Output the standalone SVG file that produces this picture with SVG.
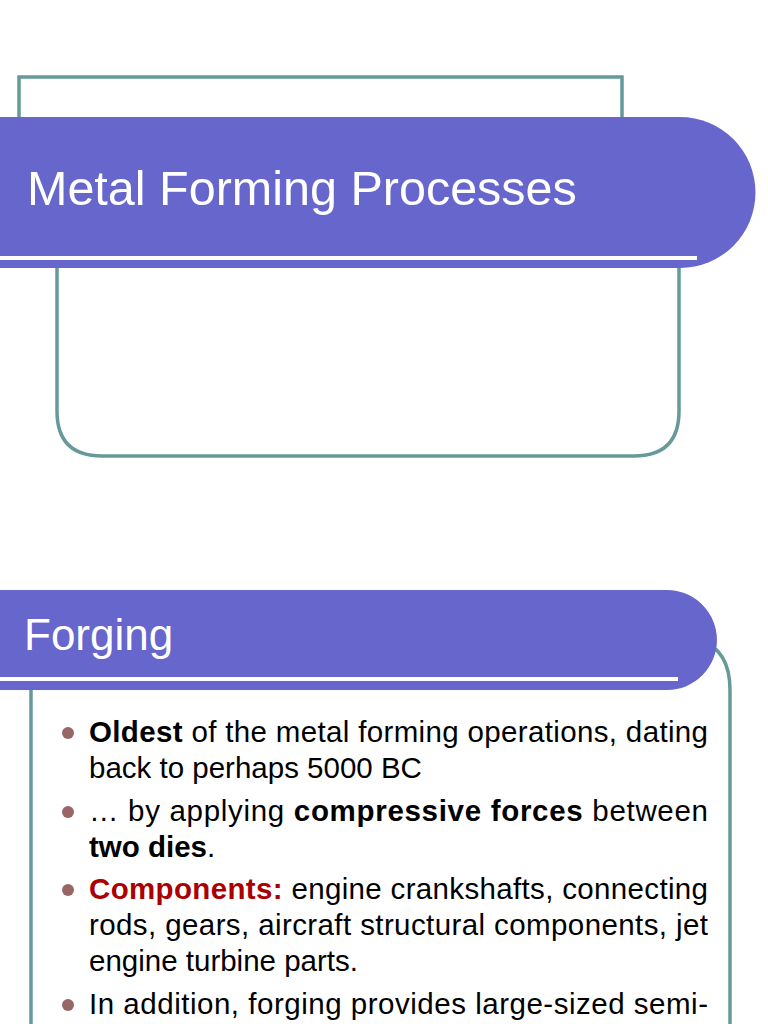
<svg xmlns="http://www.w3.org/2000/svg" width="768" height="1024" viewBox="0 0 768 1024">
<style>
.fr{fill:none;stroke:#669999;stroke-width:3.5}
.bn{fill:#6666CC}
.wl{stroke:#fff;stroke-width:4}
.t{font-family:"Liberation Sans",Arial,sans-serif;fill:#000;font-size:29.5px}
.h{font-family:"Liberation Sans",Arial,sans-serif;fill:#fff}
.dot{fill:#996666}
</style>
<rect width="768" height="1024" fill="#fff"/>
<g id="slide1">
<path class="fr" d="M19,117 V77 H622 V117"/>
<path class="fr" d="M57,268 V411 Q57,456 102,456 H634 Q679,456 679,411 V268"/>
<path class="bn" d="M0,117 H680 A75,75 0 0 1 680,268 H0 Z"/>
<line class="wl" x1="0" y1="258" x2="697" y2="258"/>
<text class="h" x="27" y="205" font-size="48.5">Metal Forming Processes</text>
</g>
<g id="slide2">
<path class="fr" d="M31,690 V1024 M700,640 Q730,650 730,690 V1024"/>
<path class="bn" d="M0,590 H667 A50,50 0 0 1 667,690 H0 Z"/>
<line class="wl" x1="0" y1="679" x2="678" y2="679"/>
<text class="h" x="24" y="650" font-size="44">Forging</text>
<circle class="dot" cx="68" cy="733" r="6"/>
<circle class="dot" cx="68" cy="812" r="6"/>
<circle class="dot" cx="68" cy="890" r="6"/>
<circle class="dot" cx="68" cy="1005" r="6"/>
<text class="t" x="89" y="742" textLength="619" lengthAdjust="spacing"><tspan font-weight="bold">Oldest</tspan> of the metal forming operations, dating</text>
<text class="t" x="89" y="778">back to perhaps 5000 BC</text>
<text class="t" x="89" y="821" textLength="619" lengthAdjust="spacing">… by applying <tspan font-weight="bold">compressive forces</tspan> between</text>
<text class="t" x="89" y="857"><tspan font-weight="bold">two dies</tspan>.</text>
<text class="t" x="89" y="899" textLength="619" lengthAdjust="spacing"><tspan font-weight="bold" fill="#AA0000">Components:</tspan> engine crankshafts, connecting</text>
<text class="t" x="89" y="935" textLength="619" lengthAdjust="spacing">rods, gears, aircraft structural components, jet</text>
<text class="t" x="89" y="971">engine turbine parts.</text>
<text class="t" x="89" y="1014" textLength="619" lengthAdjust="spacing">In addition, forging provides large-sized semi-</text>
</g>
</svg>
